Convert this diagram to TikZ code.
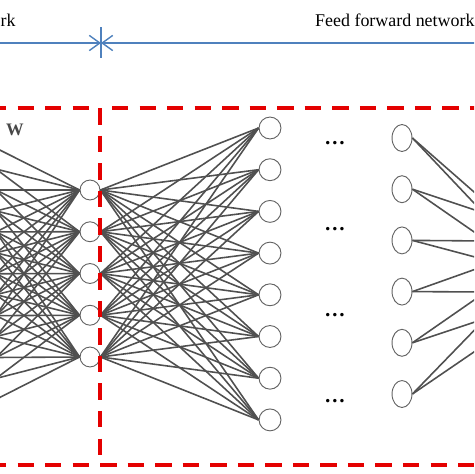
\documentclass[tikz,border=0pt]{standalone}
\usepackage{fontspec}
\setmainfont{Liberation Serif}
\usetikzlibrary{arrows.meta,shapes.geometric}
\definecolor{linkgray}{RGB}{80,80,80}
\definecolor{ringgray}{RGB}{100,100,100}
\definecolor{barblue}{RGB}{79,129,189}
\definecolor{boxred}{RGB}{228,0,0}
\tikzset{
	neuron/.style={circle, draw=ringgray, fill=white, line width=0.8pt, minimum size=17pt, inner sep=0pt},
	wideneuron/.style={neuron, minimum size=18.7pt},
	ovalneuron/.style={ellipse, draw=ringgray, fill=white, line width=0.8pt, minimum width=17pt, minimum height=23pt, inner sep=0pt},
	link/.style={draw=linkgray, line width=1.35pt},
	redbox/.style={draw=boxred, line width=3.2pt, dash pattern=on 14pt off 9.5pt},
	spanline/.style={draw=barblue, line width=1.2pt},
	dotrow/.style={inner sep=0pt, font=\bfseries\fontsize{18}{20}\selectfont}
}

\begin{document}
\begin{tikzpicture}[x=0.03cm, y=-0.03cm]
	%%%%% START %%%%%
	\useasboundingbox (0,0) rectangle (474,474);
	\clip (0,0) rectangle (474,474);
	
	% titles
	\node[anchor=base west, inner sep=0pt, font=\fontsize{15.3}{18}\selectfont] (lefttitle) at (0.5,26) {rk};
	\node[anchor=base west, inner sep=0pt, font=\fontsize{15.3}{18}\selectfont] (righttitle) at (315,26) {Feed forward network};
	
	% span bar
	\coordinate (spanL) at (-5,43);
	\coordinate (spanR) at (480,43);
	\coordinate (split) at (101,43);
	\draw[spanline, -{Straight Barb[length=9pt, width=13pt]}] (spanL) -- (split);
	\draw[spanline, -{Straight Barb[length=9pt, width=13pt]}] (spanR) -- (split);
	\draw[spanline] (101,27) -- (101,58);
	
	% input side, outside the picture
	\foreach \i in {0,...,8}
		\coordinate (in\i) at (-88, 106+42*\i);
	
	% middle layer
	\foreach \j in {1,...,5}
		\node[neuron] (h\j) at (90, 190+41.75*\j-41.75) {};
	
	% first feed forward layer
	\foreach \k in {1,...,8}
		\node[wideneuron] (f\k) at (270, 128+41.7*\k-41.7) {};
	
	% last layer
	\foreach \m in {1,...,6}
		\node[ovalneuron] (e\m) at (402, 138+51.2*\m-51.2) {};
	
	% dots
	\foreach \y [count=\n] in {143,229,315,401}
		\node[dotrow] (dots\n) at (335,\y) {\ldots};
	
	\node[font=\bfseries\fontsize{15}{17}\selectfont, text=linkgray!90!black] (wlabel) at (15,130) {W};
	
	% weights
	\foreach \i in {0,...,8}
		\foreach \j in {1,...,5}
			\draw[link] (in\i) -- (h\j.west);
	\foreach \j in {1,...,5}
		\foreach \k in {1,...,8}
			\draw[link] (h\j.east) -- (f\k.west);
	\foreach \m/\a/\b in {1/206/220, 2/215/243, 3/241/261, 4/264/292, 5/289/317, 6/314/341}{
		\coordinate (out\m a) at (490,\a);
		\coordinate (out\m b) at (490,\b);
		\draw[link] (e\m.east) -- (out\m a);
		\draw[link] (e\m.east) -- (out\m b);
	}
	
	% dashed boxes
	\draw[redbox] (-10,108) -- (100,108) -- (100,465);
	\draw[redbox] (112,108) -- (484,108);
	\draw[redbox] (-10,465) -- (484,465);
	
	%%%%% END %%%%%
\end{tikzpicture}
\end{document}
